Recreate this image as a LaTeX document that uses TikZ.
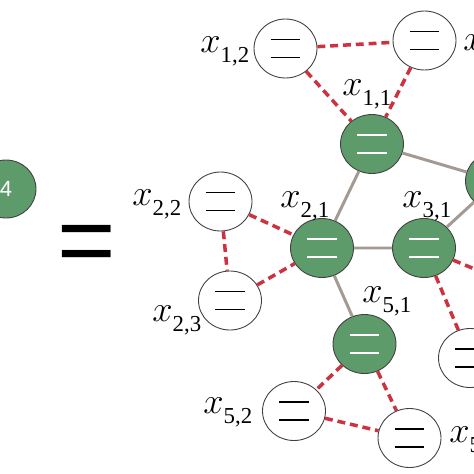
\documentclass[tikz,border=0pt]{standalone}
\usepackage{fontspec}
\setmainfont{Liberation Serif}
\newfontfamily\labelfont{Liberation Serif}
\newfontfamily\signfont{Liberation Sans}
\usetikzlibrary{shapes.geometric}
\definecolor{leafgreen}{HTML}{5E9B6A}
\definecolor{tiegray}{HTML}{A39A93}
\definecolor{linkred}{HTML}{CC3340}
\newcommand{\xsub}[1]{$x$\raisebox{-0.27em}{\fontsize{13}{13}\selectfont #1}}

\begin{document}
\begin{tikzpicture}[
	x=0.02cm, y=-0.02cm,
	every node/.style={inner sep=0pt},
	unit/.style={
		ellipse, draw=black!75, line width=0.5pt,
		minimum width=1.26cm, minimum height=1.18cm,
		path picture={
			\draw[#1] ([shift={(-0.3cm,0.18cm)}]path picture bounding box.center) -- ++(0.6cm,0)
				([shift={(-0.3cm,-0.18cm)}]path picture bounding box.center) -- ++(0.6cm,0);
		}
	},
	plain/.style={unit={black, line width=0.7pt}, fill=white},
	hub/.style={unit={white, line width=1pt}, fill=leafgreen},
	side/.style={
		ellipse, draw=black!75, line width=0.5pt, fill=leafgreen,
		minimum width=1.2cm, minimum height=1.16cm,
		text=white, font=\signfont\fontsize{12.5}{14}\selectfont
	},
	varname/.style={font=\labelfont\fontsize{22}{26}\selectfont},
	tie/.style={draw=tiegray, line width=1.7pt},
	link/.style={draw=linkred, line width=2pt, dash pattern=on 4.5pt off 2.8pt}
]
\useasboundingbox (0,0) rectangle (474,474);

\node[side] (x4) at (6,189) {4};
\node[font=\signfont\fontsize{57}{60}\selectfont, anchor=base] (eq) at (86.5,274) {=};

\node[plain] (x12) at (285.5,48.5) {};
\node[plain] (x13) at (424.5,40.5) {};
\node[hub] (x11) at (372,144) {};
\node[hub] (x41) at (497,181) {};
\node[plain] (x22) at (220.5,201.5) {};
\node[plain] (x23) at (230,300.5) {};
\node[hub] (x21) at (322,248) {};
\node[hub] (x31) at (424,248) {};
\node[plain] (x32) at (470,358) {};
\coordinate (x33) at (530,292);
\node[hub] (x51) at (364.5,344) {};
\node[plain] (x52) at (294,411) {};
\node[plain] (x53) at (409.5,438) {};

\node[varname, anchor=base west] (l12) at (200,52) {\xsub{1,2}};
\node[varname, anchor=base west] (l13) at (463,50) {\xsub{1,3}};
\node[varname, anchor=base west] (l11) at (342,95) {\xsub{1,1}};
\node[varname, anchor=base west] (l22) at (132,205) {\xsub{2,2}};
\node[varname, anchor=base west] (l21) at (280,207) {\xsub{2,1}};
\node[varname, anchor=base west] (l31) at (402,207) {\xsub{3,1}};
\node[varname, anchor=base west] (l23) at (152,321) {\xsub{2,3}};
\node[varname, anchor=base west] (l51) at (362,302) {\xsub{5,1}};
\node[varname, anchor=base west] (l52) at (203,413) {\xsub{5,2}};
\node[varname, anchor=base west] (l53) at (449,442) {\xsub{5,3}};

\draw[tie] (x11) -- (x21) (x11) -- (x41) (x21) -- (x31) (x31) -- (x41) (x21) -- (x51);
\draw[link] (x12) -- (x13) (x12) -- (x11) (x13) -- (x11);
\draw[link] (x22) -- (x21) (x23) -- (x21) (x22) -- (x23);
\draw[link] (x31) -- (x32) (x31) -- (x33);
\draw[link] (x51) -- (x52) (x51) -- (x53) (x52) -- (x53);
\end{tikzpicture}
\end{document}
